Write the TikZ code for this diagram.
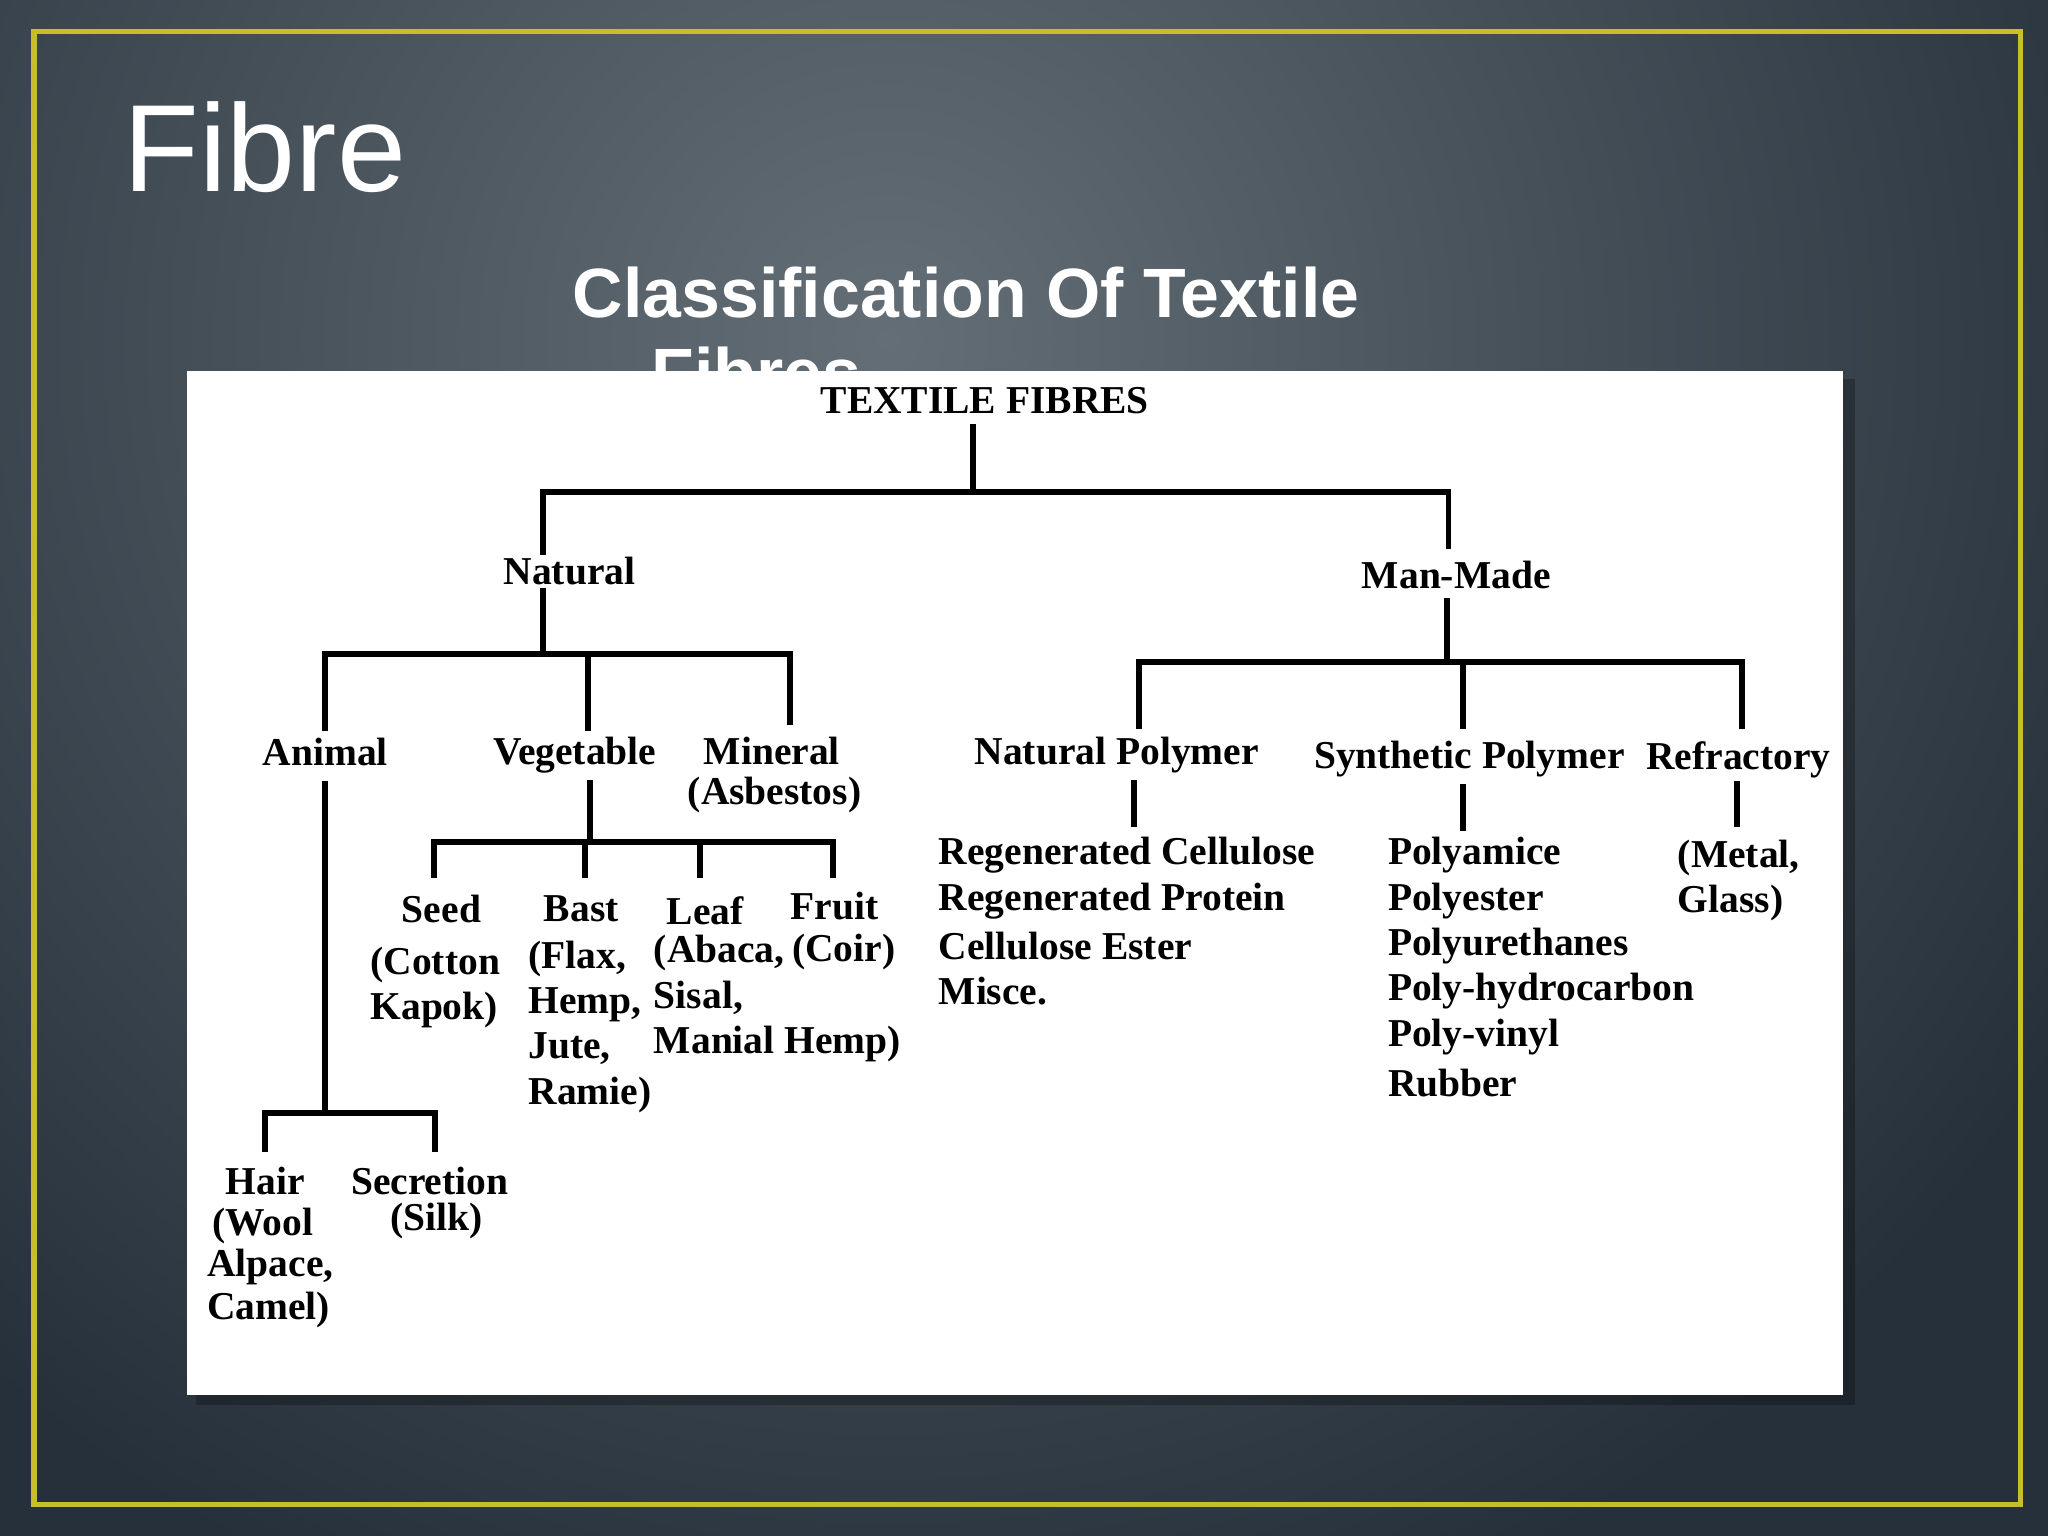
\documentclass[tikz,border=0pt]{standalone}
\usepackage{fontspec}
\setmainfont{Liberation Serif}
\newfontfamily\titlefont{Liberation Sans}
\begin{document}
\begin{tikzpicture}[x=0.01cm,y=-0.01cm,
  lbl/.style={font=\bfseries\fontsize{8.6}{10}\selectfont,inner sep=0pt},
  lft/.style={lbl,anchor=west},
  ln/.style={line width=1.3pt,black},
  sub/.style={anchor=west,text=white,font=\titlefont\bfseries\fontsize{15.2}{18}\selectfont,inner sep=0pt}]
\useasboundingbox (0,0) rectangle (1568,1176);
\fill[color={rgb,255:red,38;green,48;blue,58}] (0,0) rectangle (1568,1176);
\begin{scope}
\clip (0,0) rectangle (1568,1176);
\shade[inner color={rgb,255:red,100;green,110;blue,118},outer color={rgb,255:red,38;green,48;blue,58}] (680,260) circle (1050);
\end{scope}
\draw[color={rgb,255:red,200;green,190;blue,40},line width=1.2pt] (26,24) rectangle (1547,1152);
\node[anchor=west,text=white,font=\titlefont\fontsize{27}{30}\selectfont,inner sep=0pt] (title) at (94,113) {Fibre};
\node[sub] (sub1) at (438,224) {Classification Of Textile};
\node[sub] (sub2) at (498,285) {Fibres};
\fill[black,opacity=0.25] (150,290) rectangle (1420,1076);
\fill[white] (143,284) rectangle (1411,1068);
% labels
\node[lbl] (tf) at (754,307) {TEXTILE FIBRES};
\node[lbl] (nat) at (436,437) {Natural};
\node[lbl] (mm) at (1115,440) {Man-Made};
\node[lbl] (ani) at (249,576) {Animal};
\node[lbl] (veg) at (440,578) {Vegetable};
\node[lbl] (min) at (591,575) {Mineral};
\node[lbl] (asb) at (593,609) {(Asbestos)};
\node[lbl] (np) at (855,578) {Natural Polymer};
\node[lbl] (sp) at (1125,581) {Synthetic Polymer};
\node[lbl] (ref) at (1331,582) {Refractory};
\node[lbl] (seed) at (338,696) {Seed};
\node[lft] (cot) at (283,739) {(Cotton};
\node[lft] (kap) at (283,773) {Kapok)};
\node[lbl] (bast) at (445,696) {Bast};
\node[lft] (b1) at (404,734) {(Flax,};
\node[lft] (b2) at (404,769) {Hemp,};
\node[lft] (b3) at (404,803) {Jute,};
\node[lft] (b4) at (404,838) {Ramie)};
\node[lbl] (leaf) at (540,697) {Leaf};
\node[lft] (l1) at (500,730) {(Abaca,};
\node[lft] (l2) at (500,764) {Sisal,};
\node[lft] (l3) at (500,799) {Manial Hemp)};
\node[lbl] (fruit) at (639,694) {Fruit};
\node[lbl] (coir) at (646,729) {(Coir)};
\node[lft] (r1) at (718,655) {Regenerated Cellulose};
\node[lft] (r2) at (718,690) {Regenerated Protein};
\node[lft] (r3) at (718,724) {Cellulose Ester};
\node[lft] (r4) at (718,759) {Misce.};
\node[lft] (s1) at (1062,655) {Polyamice};
\node[lft] (s2) at (1062,690) {Polyester};
\node[lft] (s3) at (1062,724) {Polyurethanes};
\node[lft] (s4) at (1062,759) {Poly-hydrocarbon};
\node[lft] (s5) at (1062,794) {Poly-vinyl};
\node[lft] (s6) at (1062,829) {Rubber};
\node[lft] (m1) at (1284,657) {(Metal,};
\node[lft] (m2) at (1284,691) {Glass)};
\node[lbl] (hair) at (203,904) {Hair};
\node[lft] (h1) at (162,939) {(Wool};
\node[lft] (h2) at (158,970) {Alpace,};
\node[lft] (h3) at (158,1003) {Camel)};
\node[lbl] (sec) at (329,904) {Secretion};
\node[lbl] (silk) at (334,935) {(Silk)};
% connectors
\draw[ln] (745,325) -- (745,377);
\draw[ln] (416,425) -- (416,377) -- (1109,377) -- (1109,420);
\draw[ln] (416,450) -- (416,501);
\draw[ln] (249,560) -- (249,501) -- (605,501) -- (605,555);
\draw[ln] (450,501) -- (450,560);
\draw[ln] (1108,458) -- (1108,507);
\draw[ln] (872,558) -- (872,507) -- (1334,507) -- (1334,558);
\draw[ln] (1120,507) -- (1120,558);
\draw[ln] (249,598) -- (249,852);
\draw[ln] (203,882) -- (203,852) -- (333,852) -- (333,882);
\draw[ln] (452,597) -- (452,645);
\draw[ln] (332,672) -- (332,645) -- (638,645) -- (638,672);
\draw[ln] (448,645) -- (448,672);
\draw[ln] (536,645) -- (536,672);
\draw[ln] (868,597) -- (868,633);
\draw[ln] (1120,600) -- (1120,636);
\draw[ln] (1330,598) -- (1330,633);
\end{tikzpicture}
\end{document}
